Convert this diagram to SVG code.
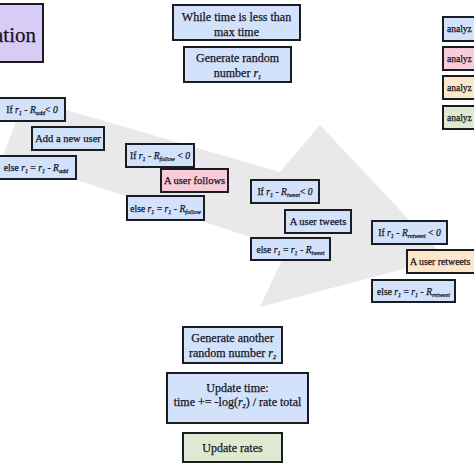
<svg xmlns="http://www.w3.org/2000/svg" width="474" height="474" viewBox="0 0 474 474">
<style>
text{font-family:"Liberation Serif","Times New Roman",serif;fill:#15151f;stroke:#15151f;stroke-width:0.25;}
.b{stroke:#1b1b22;stroke-width:2;}
.blue{fill:#d3e2fb;}
.pink{fill:#f8cdd9;}
.peach{fill:#fde7cb;}
.green{fill:#dfe9d2;}
.purple{fill:#d8ccf6;}
.L{font-size:12px;text-anchor:middle;}
.M{font-size:10.5px;text-anchor:middle;}
.S{font-size:9.6px;text-anchor:middle;}
.G{font-size:9.5px;}
.i{font-style:italic;}
.sub{font-size:6.2px;font-style:italic;}
</style>
<rect width="474" height="474" fill="#ffffff" stroke="none"/>
<g id="flow-arrow">
<polygon points="25,98 280,172 320,125 445,258 260,307 287,249 3,156" fill="#e9e9ec"/>
</g>
<g id="connectors"></g>
<g id="title"><rect class="b purple" x="-3" y="4" width="46" height="58"/><text x="36" y="42" style="font-size:21px;text-anchor:end">ation</text></g>
<g id="while"><rect class="b blue" x="173" y="5" width="127" height="35"/><text class="L" x="236.5" y="21">While time is less than</text><text class="L" x="236.5" y="35.5">max time</text></g>
<g id="gen-r1"><rect class="b blue" x="184" y="47" width="107" height="35"/><text class="L" x="237.5" y="62">Generate random</text><text class="L" x="237.5" y="76.5">number <tspan class="i">r</tspan><tspan class="sub" dy="2">1</tspan></text></g>
<g id="legend">
<rect class="b blue" x="443" y="17" width="40" height="24"/><text class="G" x="447" y="32">analyz</text>
<rect class="b pink" x="443" y="47" width="40" height="23"/><text class="G" x="447" y="61.5">analyz</text>
<rect class="b peach" x="443" y="76" width="40" height="23"/><text class="G" x="447" y="90.5">analyz</text>
<rect class="b green" x="443" y="106" width="40" height="23"/><text class="G" x="447" y="120.5">analyz</text>
</g>
<g id="if-add"><rect class="b blue" x="-3" y="98" width="68" height="23"/><text class="S" x="32" y="113">If <tspan class="i">r</tspan><tspan class="sub" dy="2">1</tspan><tspan dy="-2"> - </tspan><tspan class="i">R</tspan><tspan class="sub" dy="2">add</tspan><tspan dy="-2">&lt; </tspan><tspan class="i">0</tspan></text></g>
<g id="add-user"><rect class="b blue" x="32" y="127" width="72" height="23"/><text class="M" x="68" y="142">Add a new user</text></g>
<g id="else-add"><rect class="b blue" x="-5" y="156" width="81" height="23"/><text class="S" x="36" y="171">else <tspan class="i">r</tspan><tspan class="sub" dy="2">1</tspan><tspan dy="-2"> = </tspan><tspan class="i">r</tspan><tspan class="sub" dy="2">1</tspan><tspan dy="-2"> - </tspan><tspan class="i">R</tspan><tspan class="sub" dy="2">add</tspan></text></g>
<g id="if-follow"><rect class="b blue" x="126" y="144" width="68" height="23"/><text class="S" x="160" y="159">If <tspan class="i">r</tspan><tspan class="sub" dy="2">1</tspan><tspan dy="-2"> - </tspan><tspan class="i">R</tspan><tspan class="sub" dy="2">follow</tspan><tspan dy="-2"> &lt; </tspan><tspan class="i">0</tspan></text></g>
<g id="user-follows"><rect class="b pink" x="161" y="169" width="67" height="23"/><text class="M" x="194.5" y="184">A user follows</text></g>
<g id="else-follow"><rect class="b blue" x="127" y="196" width="77" height="24"/><text class="S" x="165.5" y="212">else <tspan class="i">r</tspan><tspan class="sub" dy="2">1</tspan><tspan dy="-2"> = </tspan><tspan class="i">r</tspan><tspan class="sub" dy="2">1</tspan><tspan dy="-2"> - </tspan><tspan class="i">R</tspan><tspan class="sub" dy="2">follow</tspan></text></g>
<g id="if-tweet"><rect class="b blue" x="251" y="180" width="68" height="23"/><text class="S" x="285" y="195">If <tspan class="i">r</tspan><tspan class="sub" dy="2">1</tspan><tspan dy="-2"> - </tspan><tspan class="i">R</tspan><tspan class="sub" dy="2">tweet</tspan><tspan dy="-2">&lt; </tspan><tspan class="i">0</tspan></text></g>
<g id="user-tweets"><rect class="b blue" x="285" y="210" width="66" height="23"/><text class="M" x="318" y="225">A user tweets</text></g>
<g id="else-tweet"><rect class="b blue" x="251" y="238" width="79" height="22"/><text class="S" x="290.5" y="253">else <tspan class="i">r</tspan><tspan class="sub" dy="2">1</tspan><tspan dy="-2"> = </tspan><tspan class="i">r</tspan><tspan class="sub" dy="2">1</tspan><tspan dy="-2"> - </tspan><tspan class="i">R</tspan><tspan class="sub" dy="2">tweet</tspan></text></g>
<g id="if-retweet"><rect class="b blue" x="372" y="221" width="75" height="23"/><text class="S" x="409.5" y="236">If <tspan class="i">r</tspan><tspan class="sub" dy="2">1</tspan><tspan dy="-2"> - </tspan><tspan class="i">R</tspan><tspan class="sub" dy="2">retweet</tspan><tspan dy="-2"> &lt; </tspan><tspan class="i">0</tspan></text></g>
<g id="user-retweets"><rect class="b peach" x="407" y="250" width="80" height="23"/><text x="410" y="265" style="font-size:9.8px">A user retweets</text></g>
<g id="else-retweet"><rect class="b blue" x="372" y="280" width="83" height="22"/><text class="S" x="413.5" y="295">else <tspan class="i">r</tspan><tspan class="sub" dy="2">1</tspan><tspan dy="-2"> = </tspan><tspan class="i">r</tspan><tspan class="sub" dy="2">1</tspan><tspan dy="-2"> - </tspan><tspan class="i">R</tspan><tspan class="sub" dy="2">retweet</tspan></text></g>
<g id="gen-r2"><rect class="b blue" x="183" y="327" width="99" height="36"/><text class="L" x="232.5" y="342">Generate another</text><text class="L" x="232.5" y="357">random number <tspan class="i">r</tspan><tspan class="sub" dy="2">2</tspan></text></g>
<g id="update-time"><rect class="b blue" x="167" y="373" width="141" height="50"/><text class="L" x="237.5" y="392">Update time:</text><text class="L" x="237.5" y="406">time += -log(<tspan class="i">r</tspan><tspan class="sub" dy="2">2</tspan><tspan dy="-2">)  /  rate total</tspan></text></g>
<g id="update-rates"><rect class="b green" x="183" y="433" width="99" height="29"/><text class="L" x="232.5" y="451.5">Update rates</text></g>
</svg>
